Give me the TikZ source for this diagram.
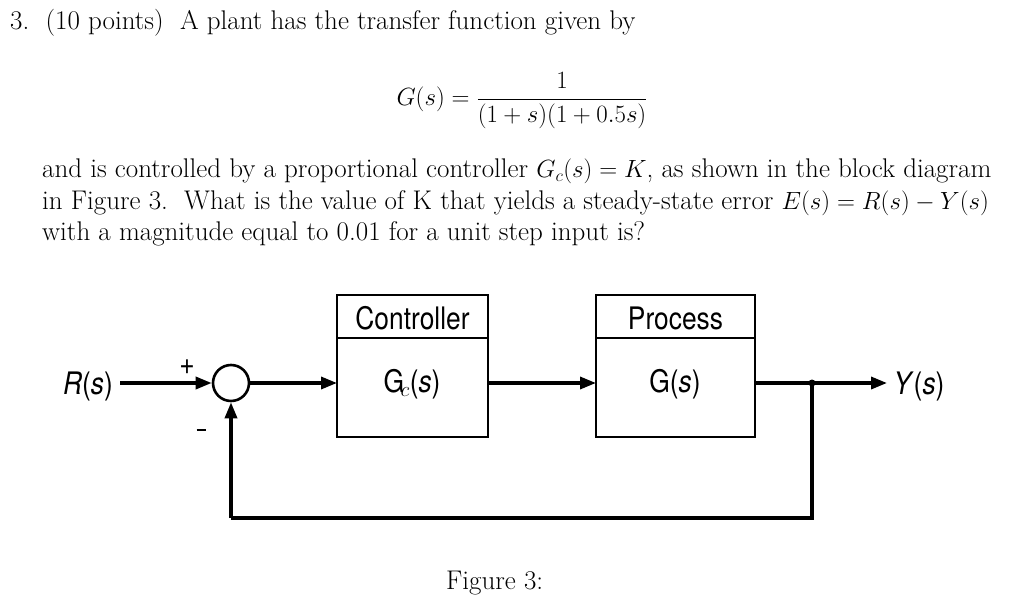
\documentclass[tikz,border=0pt]{standalone}
\usepackage{amsmath}
\usepackage{fontspec}
\newfontfamily\dsf[FakeStretch=0.85]{TeX Gyre Heros}
\usetikzlibrary{arrows.meta}
\begin{document}
\begin{tikzpicture}[x=1pt,y=-1pt,
  txt/.style={anchor=base west,inner sep=0pt,font=\fontsize{27}{30}\selectfont},
  dl/.style={font=\dsf\fontsize{31}{34}\selectfont,inner sep=0pt},
  ln/.style={line width=3.4pt},
  arr/.style={ln,-{Triangle[length=16pt,width=12pt]}},
  blk/.style={draw,line width=2.6pt}]
\useasboundingbox (0,0) rectangle (1024,596);
\node[txt] (l1) at (10,30) {3.\ \ (10 points)\ \ A plant has the transfer function given by};
\node[inner sep=0pt,font=\fontsize{27}{30}\selectfont] (eq) at (522,101) {$G(s)=\dfrac{1}{(1+s)(1+0.5s)}$};
\node[txt] (l2) at (42,178) {and is controlled by a proportional controller $G_c(s)=K$, as shown in the block diagram};
\node[txt] (l3) at (42,209) {in Figure 3.\ \ What is the value of K that yields a steady-state error $E(s)=R(s)-Y(s)$};
\node[txt] (l4) at (42,240) {with a magnitude equal to 0.01 for a unit step input is?};
\draw[blk] (337,295) rectangle (488,437);
\draw[blk] (596,295) rectangle (755,437);
\draw[blk] (337,338) -- (488,338) (596,338) -- (755,338);
\node[dl] (ct) at (412.5,318) {Controller};
\node[dl] (pt) at (675.5,318) {Process};
\node[dl] (gc) at (412,384) {G$_{\!c}$(\textit{s})};
\node[dl] (gp) at (675,384) {G(\textit{s})};
\node[dl] (r) at (88,386) {\textit{R}(\textit{s})};
\node[dl] (y) at (919,386) {\textit{Y}(\textit{s})};
\node[draw,circle,line width=2.6pt,minimum size=36pt,inner sep=0pt] (s) at (231,383) {};
\node[dl] (plus) at (187,367) {+};
\node[dl] (minus) at (201,430) {\rule{9pt}{2pt}};
\coordinate (cin) at (337,383);
\coordinate (cout) at (488,383);
\coordinate (pin) at (596,383);
\coordinate (pout) at (755,383);
\coordinate (b) at (812,383);
\coordinate (r0) at (120,383);
\coordinate (y0) at (887,383);
\coordinate (fb1) at (812,518);
\coordinate (fb2) at (231,518);
\draw[arr] (r0) -- (s.west);
\draw[arr] (s.east) -- (cin);
\draw[arr] (cout) -- (pin);
\draw[arr] (pout) -- (y0);
\fill (b) circle (3.5pt);
\draw[ln] (b) -- (fb1) -- (fb2);
\draw[arr] (fb2) -- (s.south);
\node[txt] (fig) at (446,589) {Figure 3:};
\end{tikzpicture}
\end{document}
